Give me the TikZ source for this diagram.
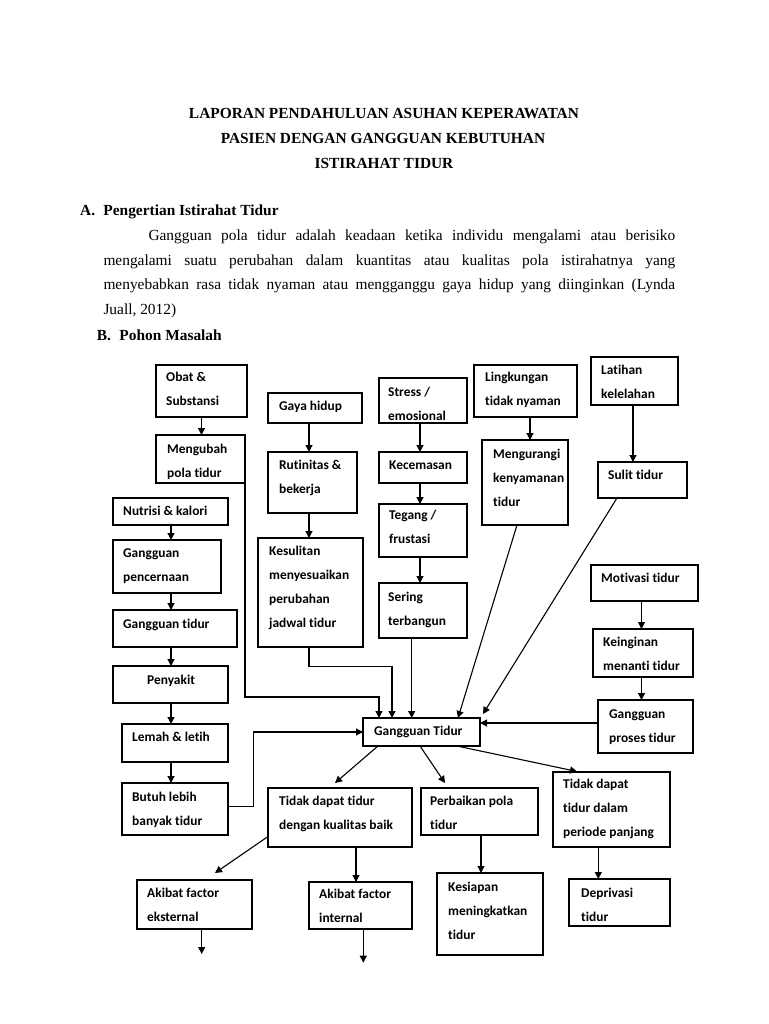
\documentclass[tikz,border=0pt]{standalone}
\usepackage{fontspec}
\setmainfont{Liberation Serif}
\newfontfamily\carl[Ligatures=NoCommon]{Carlito}
\usetikzlibrary{arrows.meta,calc}
\newcommand\bx[8]{%
  \node[box, minimum width={#4-#2}, minimum height={#5-#3}, anchor=north west] (#1) at (#2,#3) {};
  \node[btxt, anchor=base west] (#1t) at (#6,#3+#7) {\parbox[t]{160pt}{\raggedright #8}};}
\begin{document}
\begin{tikzpicture}[x=1pt,y=-1pt,
 box/.style={draw, line width=1.1pt, inner sep=0pt, outer sep=0pt},
 btxt/.style={inner sep=0pt, font=\carl\bfseries\fontsize{13.4}{24.3}\selectfont},
 arr/.style={line width=1.1pt, -{Triangle[length=7pt,width=7pt]}},
 ttl/.style={inner sep=0pt, anchor=base, font=\bfseries\fontsize{15.4}{18}\selectfont},
 body/.style={inner sep=0pt, anchor=base west, font=\fontsize{15.4}{18}\selectfont},
 hd/.style={inner sep=0pt, anchor=base west, font=\bfseries\fontsize{15.4}{18}\selectfont},
]
\fill[white] (0,0) rectangle (768,1024);
\path[use as bounding box] (0,0) rectangle (768,1024);

% title
\node[ttl] (t1) at (384,118.5) {LAPORAN PENDAHULUAN ASUHAN KEPERAWATAN};
\node[ttl] (t2) at (383,143.5) {PASIEN DENGAN GANGGUAN KEBUTUHAN};
\node[ttl] (t3) at (384,168.5) {ISTIRAHAT TIDUR};

\node[hd] (ha) at (80,215) {\makebox[23.3pt][l]{A.}Pengertian Istirahat Tidur};
\node[body] (p1) at (148.3,240.5) {\makebox[526.7pt][s]{Gangguan pola tidur adalah keadaan ketika individu mengalami atau berisiko}};
\node[body] (p2) at (103.3,265) {\makebox[571.7pt][s]{mengalami suatu perubahan dalam kuantitas atau kualitas pola istirahatnya yang}};
\node[body] (p3) at (103.3,289.5) {\makebox[571.7pt][s]{menyebabkan rasa tidak nyaman atau mengganggu gaya hidup yang diinginkan (Lynda}};
\node[body] (p4) at (103.3,314) {Juall, 2012)};
\node[hd] (hb) at (96.7,340) {\makebox[22.6pt][l]{B.}Pohon Masalah};

% boxes
\bx{obat}{156}{365}{247}{417}{166}{16}{Obat \&\\Substansi}
\bx{mengubah}{156}{435}{245}{483}{167}{18}{Mengubah\\pola tidur}
\bx{gaya}{268}{393}{362}{423}{279}{17}{Gaya hidup}
\bx{rutin}{268}{452}{357}{513}{279}{17}{Rutinitas \&\\bekerja}
\bx{nutri}{113}{498}{228}{525}{123}{17}{Nutrisi \& kalori}
\bx{pencer}{113}{540}{221}{593}{123}{17}{Gangguan\\pencernaan}
\bx{gtidur}{113}{610}{237}{647}{123}{18}{Gangguan tidur}
\bx{penyakit}{113}{666}{228}{703}{147}{18}{Penyakit}
\bx{lemah}{122}{724}{228}{762}{132}{17}{Lemah \& letih}
\bx{butuh}{122}{783}{228}{835}{132}{18}{Butuh lebih\\banyak tidur}
\bx{kesul}{258}{538}{363}{647}{269}{17}{Kesulitan\\menyesuaikan\\perubahan\\jadwal tidur}
\bx{stress}{379}{378}{467}{423}{388}{18}{Stress /\\emosional}
\bx{lingk}{474}{365}{577}{417}{485}{16}{Lingkungan\\tidak nyaman}
\bx{latihan}{591}{357}{678}{405}{601}{17}{Latihan\\kelelahan}
\bx{kecem}{379}{452}{467}{483}{389}{17}{Kecemasan}
\bx{mengur}{482}{440}{568}{525}{493}{18}{Mengurangi\\kenyamanan\\tidur}
\bx{sulit}{598}{462}{687}{498}{608}{17}{Sulit tidur}
\bx{tegang}{379}{504}{467}{557}{389}{15}{Tegang /\\frustasi}
\bx{sering}{379}{583}{467}{638}{388}{18}{Sering\\terbangun}
\bx{motiv}{591}{565}{698}{601}{601}{17}{Motivasi tidur}
\bx{ingin}{593}{629}{693}{677}{603}{17}{Keinginan\\menanti tidur}
\bx{gproses}{598}{700}{693}{753}{609}{18}{Gangguan\\proses tidur}
\bx{GT}{363}{718}{480}{746}{374}{17}{Gangguan Tidur}
\bx{tidak1}{268}{788}{412}{847}{279}{17}{Tidak dapat tidur\\dengan kualitas baik}
\bx{eksternal}{137}{880}{252}{929}{147}{17}{Akibat factor\\eksternal}
\bx{internal}{309}{882}{412}{929}{319}{16}{Akibat factor\\internal}
\bx{perbaikan}{421}{788}{538}{835}{430}{17}{Perbaikan pola\\tidur}
\bx{tidak2}{553}{772}{670}{847}{563}{16}{Tidak dapat\\tidur dalam\\periode panjang}
\bx{kesiapan}{437}{873}{543}{955}{448}{18}{Kesiapan\\meningkatkan\\tidur}
\bx{deprivasi}{569}{879}{670}{926}{581}{18}{Deprivasi\\tidur}

% free ends
\coordinate (endE) at (201.7,954);
\coordinate (endI) at (363.3,962.7);

% connectors
\draw[arr] (obat.south) -- (obat.south |- mengubah.north);
\draw[arr] ([xshift=-6]gaya.south) -- ([xshift=-3.5]rutin.north);
\draw[arr] ([xshift=-3.5]rutin.south) -- ([xshift=-1.5]kesul.north);
\draw[arr] ([xshift=0.5]nutri.south) -- ([xshift=4]pencer.north);
\draw[arr] ([xshift=4]pencer.south) -- ([xshift=-4]gtidur.north);
\draw[arr] ([xshift=-4]gtidur.south) -- ([xshift=0.5]penyakit.north);
\draw[arr] ([xshift=0.5]penyakit.south) -- ([xshift=-4]lemah.north);
\draw[arr] ([xshift=-4]lemah.south) -- ([xshift=-4]butuh.north);
\draw[arr] ([xshift=-3]stress.south) -- ([xshift=-3]kecem.north);
\draw[arr] ([xshift=-3]kecem.south) -- ([xshift=-3]tegang.north);
\draw[arr] ([xshift=-3]tegang.south) -- ([xshift=-3]sering.north);
\draw[arr] ([xshift=4.5]lingk.south) -- ([xshift=5]mengur.north);
\draw[arr] ([xshift=-1.5]latihan.south) -- ([xshift=-9.5]sulit.north);
\draw[arr] ([xshift=-3]motiv.south) -- ([xshift=-1.5]ingin.north);
\draw[arr] ([xshift=-1.5]ingin.south) -- ([xshift=-4]gproses.north);

\draw[arr] (mengubah.south east) -- ++(0,214) -| ([xshift=16]GT.north west);
\draw[arr] ([xshift=-1.5]kesul.south) -- ++(0,19.5) -| ([xshift=29]GT.north west);
\draw[arr] ([xshift=-11.3]sering.south) -- ([xshift=48.7]GT.north west);
\draw[arr] ([xshift=-8]mengur.south) -- ([xshift=-22]GT.north east);
\draw[arr] ([xshift=-25.5]sulit.south) -- ([xshift=3,yshift=4]GT.north east);
\draw[arr] ([yshift=3.5]gproses.west) -- ([yshift=9]GT.east);
\draw[arr] ([yshift=2.3]butuh.east) -- ++(25.3,0) |- (GT.west);

\draw[arr] ([xshift=15]GT.south west) -- ([xshift=67,yshift=5]tidak1.north west);
\draw[arr] ([xshift=57]GT.south west) -- ([xshift=24,yshift=5]perbaikan.north west);
\draw[arr] ([xshift=94]GT.south west) -- ([xshift=24,yshift=0.5]tidak2.north west);
\draw[arr] ([yshift=-19]tidak1.west) -- ([xshift=78,yshift=7]eksternal.north west);
\draw[arr] ([xshift=16]tidak1.south) -- ([xshift=-4.5]internal.north);
\draw[arr] ([xshift=1.5]perbaikan.south) -- ([xshift=-9]kesiapan.north);
\draw[arr] ([xshift=-13.2]tidak2.south) -- ([xshift=-21.2]deprivasi.north);
\draw[arr] (eksternal.south -| endE) -- (endE);
\draw[arr] (internal.south -| endI) -- (endI);
\end{tikzpicture}
\end{document}
